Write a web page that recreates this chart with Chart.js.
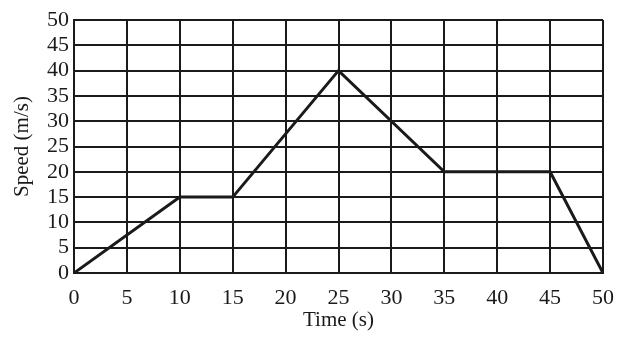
<!DOCTYPE html>
<html>
<head>
<meta charset="utf-8">
<script src="https://cdn.jsdelivr.net/npm/chart.js@4"></script>
<style>
  html, body { margin: 0; padding: 0; background: #fff; }
  #wrap { width: 619px; height: 337px; }
</style>
</head>
<body>
<div id="wrap"><canvas id="myChart" width="619" height="337"></canvas></div>
<script>
let time  = [0, 10, 15, 25, 35, 45, 50];
let speed = [0, 15, 15, 40, 20, 20, 0];

let xTitle = 'Time (s)';
let yTitle = 'Speed (m/s)';

let ink = '#1a1a1a';
let serif = "'Liberation Serif', 'Times New Roman', serif";

let ctx = document.getElementById('myChart').getContext('2d');
let chart = new Chart(ctx, {
    type: 'line',
    data: {
        datasets: [{
            data: time.map((t, i) => ({ x: t, y: speed[i] })),
            borderColor: ink,
            borderWidth: 3,
            pointRadius: 0,
            tension: 0,
        }]
    },
    options: {
        responsive: false,
        animation: false,
        layout: { padding: { left: 6, right: 16, top: 20, bottom: 0 } },
        plugins: { legend: { display: false }, tooltip: { enabled: false } },
        scales: {
            x: {
                type: 'linear',
                min: 0, max: 50,
                ticks: { stepSize: 5, autoSkip: false, color: ink, font: { family: serif, size: 22 }, padding: 12, maxRotation: 0 },
                grid: { color: ink, lineWidth: 2, drawTicks: false },
                border: { color: ink, width: 2 },
                title: { display: true, text: xTitle, color: ink, font: { family: serif, size: 21 }, padding: { top: 0 } },
                afterFit: (s) => { s.height = 64; s.paddingLeft = 0; s.paddingRight = 0; },
            },
            y: {
                min: 0, max: 50,
                ticks: { stepSize: 5, autoSkip: false, color: ink, font: { family: serif, size: 22 }, padding: 5 },
                grid: { color: ink, lineWidth: 2, drawTicks: false },
                border: { color: ink, width: 2 },
                title: { display: true, text: yTitle, color: ink, font: { family: serif, size: 21 }, padding: { bottom: 0 } },
                afterFit: (s) => { s.width = 68; s.paddingTop = 0; s.paddingBottom = 0; },
            }
        }
    }
});
</script>
</body>
</html>
